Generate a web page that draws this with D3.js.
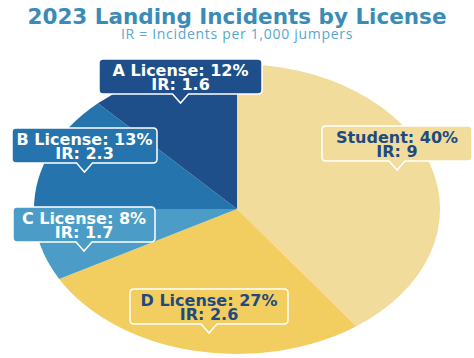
<!DOCTYPE html>
<html lang="en">
	<head>
		<meta charset="utf-8">
		<title>2023 Landing Incidents by License</title>
		<script type="text/javascript" src="https://cdn.jsdelivr.net/npm/d3@7"></script>
		<style type="text/css">
			body {
				margin: 0;
				background: #fff;
				font-family: "DejaVu Sans", sans-serif;
			}
		</style>
	</head>
	<body>
		<script type="text/javascript">

			//Data
			var categories = ["Student", "D License", "C License", "B License", "A License"];
			var shares = [40, 27, 8, 13, 12];
			var incidentRates = [9, 2.6, 1.7, 2.3, 1.6];

			var sliceColors = ["#f1dc9c", "#f2cd60", "#4b9dc7", "#2574ad", "#1f4f8b"];
			var textColors = ["#1e4a80", "#1e4a80", "#fff", "#fff", "#fff"];

			//Callout boxes: left, top, width (pixels)
			var boxes = [
				[322, 126, 150],
				[130, 289, 158],
				[13, 207, 142],
				[12, 128, 145],
				[99, 59, 163]
			];

			var w = 474;
			var h = 358;
			var cx = 237, cy = 209;
			var rx = 203, ry = 145;

			var svg = d3.select("body")
						.append("svg")
						.attr("width", w)
						.attr("height", h);

			//Title
			svg.append("text")
			   .attr("x", w / 2)
			   .attr("y", 24)
			   .attr("text-anchor", "middle")
			   .attr("font-size", "21.5px")
			   .attr("font-weight", "bold")
			   .attr("fill", "#3a8bb5")
			   .text("2023 Landing Incidents by License");

			svg.append("text")
			   .attr("x", w / 2)
			   .attr("y", 39)
			   .attr("text-anchor", "middle")
			   .attr("font-size", "14px")
			   .attr("letter-spacing", "0.7px")
			   .attr("font-family", "Open Sans, sans-serif")
			   .attr("fill", "#5aa6cc")
			   .text("IR = Incidents per 1,000 jumpers");

			//Pie, drawn on a unit circle and stretched into an ellipse
			var pie = d3.pie().sort(null);
			var arc = d3.arc().innerRadius(0).outerRadius(1);

			svg.append("g")
			   .attr("transform", "translate(" + cx + "," + cy + ") scale(" + rx + "," + ry + ")")
			   .selectAll("path")
			   .data(pie(shares))
			   .enter()
			   .append("path")
			   .attr("d", arc)
			   .attr("fill", function(d, i) {
			   		return sliceColors[i];
			   });

			//Callouts
			var boxH = 35, rad = 4, notch = 8, notchH = 9;

			var callouts = svg.selectAll("g.callout")
			   .data(categories)
			   .enter()
			   .append("g")
			   .attr("class", "callout");

			callouts.append("path")
			   .attr("d", function(d, i) {
			   		var x0 = boxes[i][0], y0 = boxes[i][1];
			   		var x1 = x0 + boxes[i][2], y1 = y0 + boxH;
			   		var mx = (x0 + x1) / 2;
			   		var p = d3.path();
			   		p.moveTo(x0 + rad, y0);
			   		p.lineTo(x1 - rad, y0);
			   		p.quadraticCurveTo(x1, y0, x1, y0 + rad);
			   		p.lineTo(x1, y1 - rad);
			   		p.quadraticCurveTo(x1, y1, x1 - rad, y1);
			   		p.lineTo(mx + notch, y1);
			   		p.lineTo(mx, y1 + notchH);
			   		p.lineTo(mx - notch, y1);
			   		p.lineTo(x0 + rad, y1);
			   		p.quadraticCurveTo(x0, y1, x0, y1 - rad);
			   		p.lineTo(x0, y0 + rad);
			   		p.quadraticCurveTo(x0, y0, x0 + rad, y0);
			   		p.closePath();
			   		return p.toString();
			   })
			   .attr("fill", function(d, i) {
			   		return sliceColors[i];
			   })
			   .attr("stroke", "#fff")
			   .attr("stroke-width", 1.5);

			//Two-line label as one text element
			var labels = callouts.append("text")
			   .attr("text-anchor", "middle")
			   .attr("font-size", "16px")
			   .attr("font-weight", "bold")
			   .attr("fill", function(d, i) {
			   		return textColors[i];
			   });

			labels.append("tspan")
			   .attr("x", function(d, i) {
			   		return boxes[i][0] + boxes[i][2] / 2;
			   })
			   .attr("y", function(d, i) {
			   		return boxes[i][1] + 17;
			   })
			   .text(function(d, i) {
			   		return d + ": " + shares[i] + "%";
			   });

			labels.append("tspan")
			   .attr("x", function(d, i) {
			   		return boxes[i][0] + boxes[i][2] / 2;
			   })
			   .attr("y", function(d, i) {
			   		return boxes[i][1] + 31;
			   })
			   .text(function(d, i) {
			   		return "IR: " + incidentRates[i];
			   });

		</script>
	</body>
</html>
